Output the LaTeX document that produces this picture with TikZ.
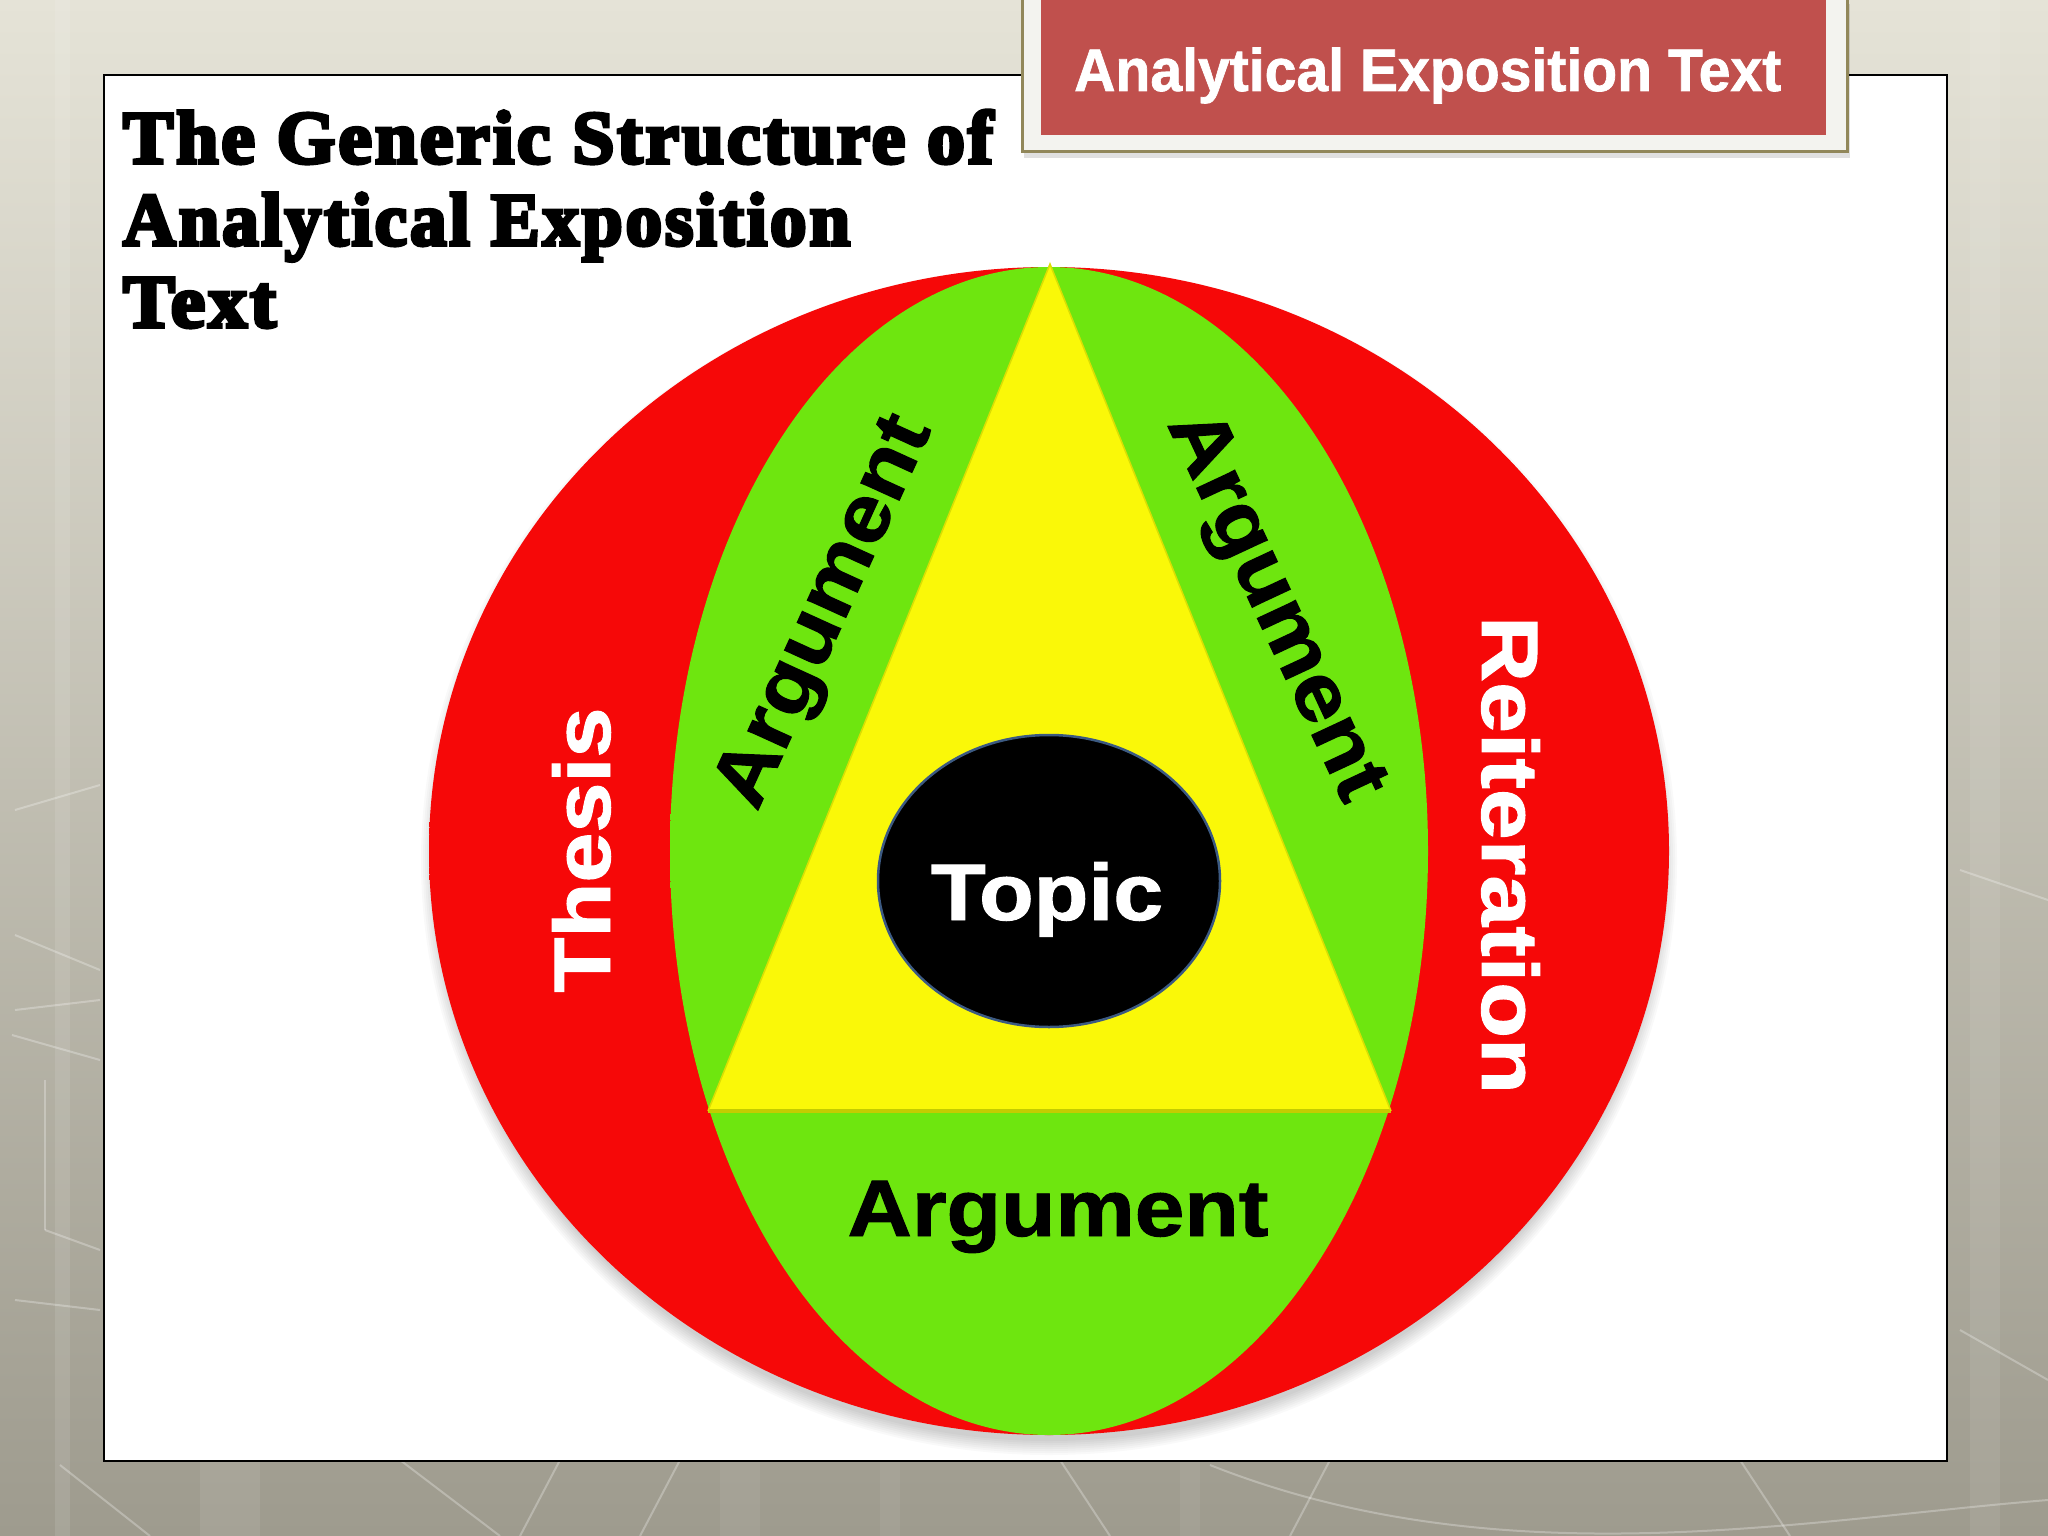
\documentclass[tikz,border=0pt]{standalone}
\usepackage{fontspec}
\usepackage{graphicx}
\setmainfont{Liberation Sans}
\newfontfamily\labfont{Liberation Sans}[BoldFeatures={FakeBold=1.2}]
\newfontfamily\serfont{Liberation Serif}[BoldFeatures={FakeBold=5,LetterSpace=4}]
\definecolor{bgtop}{RGB}{229,227,215}
\definecolor{bgbot}{RGB}{158,155,142}
\definecolor{redA}{RGB}{246,8,8}
\definecolor{redB}{RGB}{228,4,4}
\definecolor{redC}{RGB}{190,0,0}
\definecolor{grA}{RGB}{110,230,15}
\definecolor{grB}{RGB}{100,215,12}
\definecolor{grC}{RGB}{80,185,6}
\definecolor{yelA}{RGB}{250,248,8}
\definecolor{yelEdge}{RGB}{196,204,0}
\definecolor{boxred}{RGB}{192,80,77}
\definecolor{boxframe}{RGB}{243,243,239}
\definecolor{boxline}{RGB}{145,135,90}
\definecolor{topicline}{RGB}{60,90,130}
\pgfdeclareradialshading{redball}{\pgfpoint{0bp}{0bp}}{color(0bp)=(redA); color(44bp)=(redA); color(48.5bp)=(redB); color(50bp)=(redC)}
\pgfdeclareradialshading{greenball}{\pgfpoint{0bp}{0bp}}{color(0bp)=(grA); color(43bp)=(grA); color(48.5bp)=(grB); color(50bp)=(grC)}
\tikzset{
  lbl/.style={inner sep=0pt, outer sep=0pt, font=\labfont\bfseries\fontsize{80}{90}\selectfont},
  ttl/.style={inner sep=0pt, outer sep=0pt, anchor=base west, font=\serfont\bfseries\fontsize{75}{82}\selectfont},
  bgline/.style={white, opacity=0.28, line width=2}
}
\begin{document}
\begin{tikzpicture}[x=1pt, y=-1pt]
\useasboundingbox (0,0) rectangle (2048,1536);
% background
\shade[top color=bgtop, bottom color=bgbot] (0,0) rectangle (2048,1536);
\fill[white, opacity=0.10] (55,0) rectangle (70,1536);
\fill[white, opacity=0.08] (200,700) rectangle (260,1536);
\fill[white, opacity=0.08] (1970,0) rectangle (2000,1536);
\fill[white, opacity=0.06] (720,1460) rectangle (760,1536);
\fill[white, opacity=0.06] (880,1460) rectangle (900,1536);
\fill[white, opacity=0.06] (1180,1460) rectangle (1200,1536);
\draw[bgline] (15,810) -- (100,785);
\draw[bgline] (15,1010) -- (100,1000);
\draw[bgline] (15,935) -- (100,970);
\draw[bgline] (12,1035) -- (100,1060);
\draw[bgline] (45,1080) -- (45,1230);
\draw[bgline] (45,1230) -- (100,1250);
\draw[bgline] (15,1300) -- (100,1310);
\draw[bgline] (60,1465) -- (150,1536);
\draw[bgline] (400,1460) -- (500,1536);
\draw[bgline] (560,1460) -- (520,1536);
\draw[bgline] (680,1460) -- (640,1536);
\draw[bgline] (1060,1460) -- (1110,1536);
\draw[bgline] (1330,1460) -- (1290,1536);
\draw[bgline] (1740,1460) -- (1790,1536);
\draw[bgline] (1210,1465) .. controls (1500,1580) and (1800,1520) .. (2048,1500);
\draw[bgline] (1960,1330) -- (2048,1380);
\draw[bgline] (1960,870) -- (2048,900);
% white panel
\node[draw=black, line width=2, fill=white, minimum width=1843, minimum height=1386, inner sep=0pt, anchor=north west] (panel) at (103,74) {};
% title box
\fill[black, opacity=0.12] (1024,4) rectangle (1850,158);
\node[draw=boxline, line width=2.5, fill=boxframe, minimum width=825, minimum height=160, inner sep=0pt, anchor=south west] (frame) at (1021,153) {};
\node[fill=boxred, minimum width=785, minimum height=142, inner sep=0pt, anchor=south west] (redbox) at (1041,135) {};
\node[inner sep=0pt, anchor=base west, text=white, font=\labfont\bfseries\fontsize{60}{70}\selectfont] (boxtitle) at (1074,91) {\resizebox{707pt}{\height}{Analytical Exposition Text}};
% heading
\node[ttl] (h1) at (123,163) {\resizebox{870pt}{\height}{The Generic Structure of}};
\node[ttl] (h2) at (123,245) {\resizebox{727pt}{\height}{Analytical Exposition}};
\node[ttl] (h3) at (123,327) {\resizebox{153pt}{\height}{Text}};
% shadow of the ball
\foreach \k in {1,...,8}{
  \fill[black, opacity=0.025] (1049,861) ellipse [x radius={612+2*\k}, y radius={578+2*\k}];
}
% red ball
\path[shading=redball] (1049,851) ellipse [x radius=620, y radius=584];
\coordinate (ballc) at (1049,851);
% green lens
\path[shading=greenball] (1049,851) ellipse [x radius=379, y radius=584];
% yellow triangle
\coordinate (apex) at (1050,264);
\coordinate (bl) at (708,1111);
\coordinate (br) at (1391,1111);
\fill[yelA] (apex) -- (bl) -- (br) -- cycle;
\draw[yelEdge, line width=4] (bl) -- (br);
\draw[yelEdge!60!yelA, line width=1.5] (bl) -- (apex) -- (br);
% topic ellipse
\fill[black] (1049,881) ellipse [x radius=171, y radius=146];
\draw[topicline, line width=2.5] (1049,881) ellipse [x radius=171, y radius=146];
% labels
\node[lbl, text=white, anchor=base] (topic) at (1047,920) {\resizebox{232pt}{\height}{Topic}};
\node[lbl, text=white, rotate=90, anchor=base] (thesis) at (610,850) {\resizebox{285pt}{\height}{Thesis}};
\node[lbl, text=white, rotate=-90, anchor=base] (reit) at (1482,855) {\resizebox{478pt}{\height}{Reiteration}};
\node[lbl, text=black, anchor=base] (argb) at (1058,1236) {\resizebox{421pt}{\height}{Argument}};
\node[lbl, text=black, rotate=65.5] (argl) at (827,613) {\resizebox{421pt}{\height}{Argument}};
\node[lbl, text=black, rotate=-65] (argr) at (1273,607) {\resizebox{421pt}{\height}{Argument}};
\end{tikzpicture}
\end{document}
